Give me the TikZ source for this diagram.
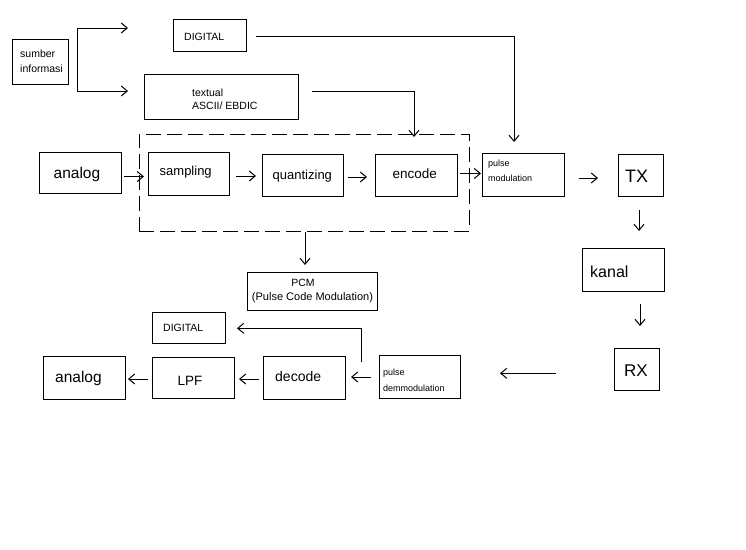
\documentclass[tikz,border=0pt]{standalone}
\usepackage{fontspec}
\setmainfont{Liberation Sans}
\usetikzlibrary{arrows.meta}
\newcommand\myfs[1]{\fontsize{#1pt}{#1pt}\selectfont}
\tikzset{
  box/.style={draw, line width=1pt, inner sep=0pt, rectangle},
  groupbox/.style={draw, line width=1pt, inner sep=0pt, rectangle, dash pattern=on 15pt off 6pt},
  arr/.style={line width=1pt, -{Straight Barb[length=6pt,width=10pt]}},
  conn/.style={line width=1pt},
  txt/.style={anchor=base west, inner sep=0pt},
  ctxt/.style={anchor=base, inner sep=0pt},
}
\newcommand\bx[6][box]{\node[#1,minimum width={(#5-#3)*1pt},minimum height={(#6-#4)*1pt}] (#2) at ({(#3+#5)/2},{(#4+#6)/2}) {};}
\begin{document}
\begin{tikzpicture}[x=1pt,y=-1pt]
\fill[white] (0,0) rectangle (746,549);
\useasboundingbox (0,0) rectangle (746,549);
% boxes
\bx{sumber}{12}{39}{68}{84}
\bx{digA}{173}{19}{246}{51}
\bx{textual}{144}{74}{298}{119}
\bx[groupbox]{pcmgroup}{139}{134}{469}{231}
\bx{analogA}{39}{152}{121}{193}
\bx{sampling}{148}{152}{229}{195}
\bx{quant}{262}{154}{343}{196}
\bx{encode}{375}{154}{457}{196}
\bx{pmod}{482}{153}{564}{196}
\bx{tx}{618}{154}{663}{196}
\bx{kanal}{582}{248}{664}{291}
\bx{rx}{614}{348}{659}{390}
\bx{pcm}{247}{272}{377}{310}
\bx{digB}{152}{312}{225}{343}
\bx{analogB}{43}{356}{125}{399}
\bx{lpf}{152}{357}{234}{398}
\bx{decode}{263}{356}{345}{399}
\bx{pdemod}{379}{355}{460}{398}
% texts
\node[txt,font=\myfs{10.5}] (tsum1) at (20,57.5) {sumber};
\node[txt,font=\myfs{10.5}] (tsum2) at (20,72.5) {informasi};
\node[txt,font=\myfs{10.5}] (tdigA) at (184,40) {DIGITAL};
\node[txt,font=\myfs{10.5}] (ttext1) at (192,96) {textual};
\node[txt,font=\myfs{10.5}] (ttext2) at (192,109) {ASCII/ EBDIC};
\node[txt,font=\myfs{15.5}] (tanA) at (53.5,178.5) {analog};
\node[txt,font=\myfs{13}] (tsamp) at (159.5,175) {sampling};
\node[txt,font=\myfs{13}] (tquant) at (272.5,179) {quantizing};
\node[txt,font=\myfs{13.5}] (tenc) at (392.5,178.3) {encode};
\node[txt,font=\myfs{9}] (tpm1) at (488,166.5) {pulse};
\node[txt,font=\myfs{9}] (tpm2) at (488,181.5) {modulation};
\node[txt,font=\myfs{18}] (ttx) at (625,182.7) {TX};
\node[txt,font=\myfs{16}] (tkanal) at (590,277) {kanal};
\node[txt,font=\myfs{17}] (trx) at (624,376.5) {RX};
\node[ctxt,font=\myfs{10.5}] (tpcm1) at (303,286.3) {PCM};
\node[ctxt,font=\myfs{11}] (tpcm2) at (312.5,300.5) {(Pulse Code Modulation)};
\node[txt,font=\myfs{10.5}] (tdigB) at (163,331.7) {DIGITAL};
\node[txt,font=\myfs{15.5}] (tanB) at (55,382.5) {analog};
\node[txt,font=\myfs{13.5}] (tlpf) at (177.5,385.5) {LPF};
\node[txt,font=\myfs{14}] (tdec) at (275,381.7) {decode};
\node[txt,font=\myfs{9}] (tpd1) at (383,375) {pulse};
\node[txt,font=\myfs{9}] (tpd2) at (383,391) {demmodulation};
% connector points
\coordinate (brT) at (77,28);
\coordinate (brB) at (77,91);
\coordinate (brTe) at (128,28);
\coordinate (brBe) at (128,91);
\coordinate (dA0) at (256,36);
\coordinate (dA1) at (514,36);
\coordinate (dA2) at (514,142);
\coordinate (tx0) at (312,91);
\coordinate (tx1) at (414,91);
\coordinate (tx2) at (414,137);
\coordinate (a1) at (124,176.5);
\coordinate (a2) at (144,176.5);
\coordinate (s1) at (236,176);
\coordinate (s2) at (256,176);
\coordinate (q1) at (348,177);
\coordinate (q2) at (367,177);
\coordinate (e1) at (460,173.5);
\coordinate (e2) at (481,173.5);
\coordinate (p1) at (579,178);
\coordinate (p2) at (598,178);
\coordinate (x1) at (639,210);
\coordinate (x2) at (639,231);
\coordinate (k1) at (640,304);
\coordinate (k2) at (640,326);
\coordinate (r1) at (556,373.3);
\coordinate (r2) at (500,373.3);
\coordinate (g1) at (305,232);
\coordinate (g2) at (305,265);
\coordinate (pd1) at (371,377);
\coordinate (pd2) at (351,377);
\coordinate (dc1) at (259,379);
\coordinate (dc2) at (239,379);
\coordinate (l1) at (148,379);
\coordinate (l2) at (128,379);
\coordinate (dg0) at (361,362);
\coordinate (dg1) at (361,328.3);
\coordinate (dg2) at (237,328.3);
% connectors
\draw[conn] (brT) -- (brB);
\draw[arr] (brT) -- (brTe);
\draw[arr] (brB) -- (brBe);
\draw[arr] (dA0) -- (dA1) -- (dA2);
\draw[arr] (tx0) -- (tx1) -- (tx2);
\draw[arr] (a1) -- (a2);
\draw[arr] (s1) -- (s2);
\draw[arr] (q1) -- (q2);
\draw[arr] (e1) -- (e2);
\draw[arr] (p1) -- (p2);
\draw[arr] (x1) -- (x2);
\draw[arr] (k1) -- (k2);
\draw[arr] (r1) -- (r2);
\draw[arr] (g1) -- (g2);
\draw[arr] (pd1) -- (pd2);
\draw[arr] (dc1) -- (dc2);
\draw[arr] (l1) -- (l2);
\draw[arr] (dg0) -- (dg1) -- (dg2);
\end{tikzpicture}
\end{document}
